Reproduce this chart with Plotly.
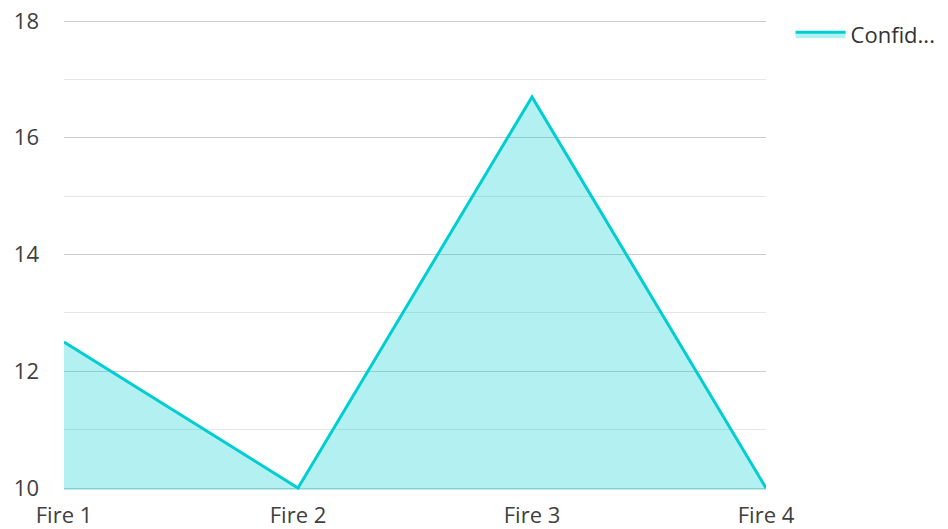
import plotly.graph_objects as go

categories = ["Fire 1", "Fire 2", "Fire 3", "Fire 4"]
confidence = [12.5, 10.0, 16.7, 10.0]
series_name = "Confid..."

line_color = "#00CED1"
fill_color = "rgba(0, 206, 209, 0.30)"

fig = go.Figure()
fig.add_trace(go.Scatter(
    x=categories,
    y=confidence,
    name=series_name,
    mode="lines",
    line=dict(color=line_color, width=3),
    fill="tozeroy",
    fillcolor=fill_color,
    showlegend=True,
))

# a little headroom above 18 and below 10 so the edge gridlines are drawn
fig.update_layout(
    width=948,
    height=529,
    margin=dict(l=64, r=182, t=19, b=39, autoexpand=False),
    paper_bgcolor="white",
    plot_bgcolor="white",
    font=dict(family="Open Sans", size=22, color="#404040"),
    showlegend=True,
    legend=dict(
        x=1.035, y=1.012, xanchor="left", yanchor="top",
        font=dict(size=22, color="#333333"),
        bgcolor="rgba(0,0,0,0)",
        itemwidth=50,
    ),
    xaxis=dict(
        type="category",
        range=[0, 3],
        showgrid=False,
        zeroline=False,
        showline=False,
        ticks="",
        ticklabelstandoff=10,
        automargin=False,
        fixedrange=True,
    ),
    yaxis=dict(
        range=[9.9657, 18.0343],
        dtick=2,
        tick0=10,
        showgrid=True,
        gridcolor="#cccccc",
        gridwidth=1,
        zeroline=False,
        showline=False,
        ticks="",
        ticklabelstandoff=24,
        automargin=False,
        minor=dict(dtick=1, tick0=10, showgrid=True, gridcolor="#e6e6e6", gridwidth=1),
    ),
)

fig.write_html("out.html")
